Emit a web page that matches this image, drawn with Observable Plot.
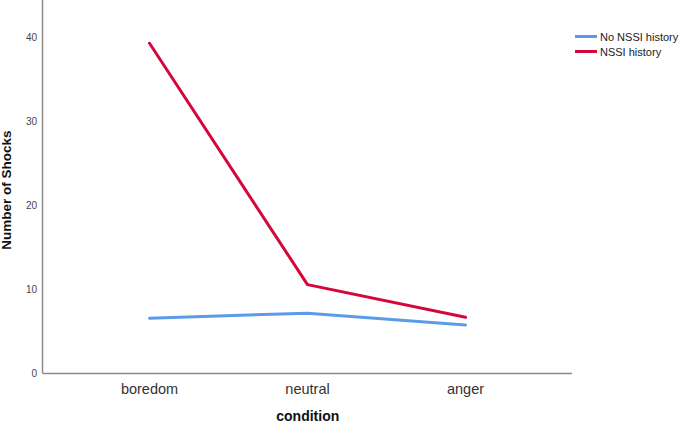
<!DOCTYPE html>
<html>
<head>
<meta charset="utf-8">
<script src="https://cdn.jsdelivr.net/npm/d3@7"></script>
<script src="https://cdn.jsdelivr.net/npm/@observablehq/plot@0.6"></script>
<style>
  html, body { margin: 0; padding: 0; background: #fff; }
  #wrap { position: relative; width: 685px; height: 422px; font-family: "Liberation Sans", Arial, sans-serif; }
  #legend { position: absolute; left: 575px; top: 29px; font-size: 11px; color: #222; }
  .item { display: flex; align-items: center; height: 15px; }
  .sw { width: 22px; height: 3px; margin-right: 3px; }
</style>
</head>
<body>
<div id="wrap"><div id="legend"></div></div>
<script>
const conditions = ["boredom", "neutral", "anger"];
const seriesNames = ["No NSSI history", "NSSI history"];
const noNssi = [6.6, 7.2, 5.8];
const nssi = [39.4, 10.6, 6.7];
const seriesColors = ["#5b9be8", "#d5073a"];
const yTicks = [0, 10, 20, 30, 40];

const data = [
  ...conditions.map((c, i) => ({condition: c, value: noNssi[i], group: seriesNames[0]})),
  ...conditions.map((c, i) => ({condition: c, value: nssi[i], group: seriesNames[1]}))
];

const yAxisLine = (index, scales, values, dims) => {
  const l = d3.create("svg:line")
    .attr("x1", dims.marginLeft).attr("x2", dims.marginLeft)
    .attr("y1", dims.marginTop).attr("y2", dims.height - dims.marginBottom)
    .attr("stroke", "#8a8a8a").attr("stroke-width", 1.5);
  return l.node();
};

const chart = Plot.plot({
  width: 685,
  height: 422,
  marginLeft: 42.5,
  marginRight: 113,
  marginTop: 0,
  marginBottom: 49,
  style: {fontFamily: "'Liberation Sans', Arial, sans-serif", background: "#fff"},
  x: {type: "point", domain: conditions, padding: 0.667},
  y: {domain: [0, 44.5]},
  color: {domain: seriesNames, range: seriesColors},
  marks: [
    Plot.axisY({ticks: yTicks, tickSize: 0, tickPadding: 6, fontSize: 10, fill: "#444", label: null}),
    Plot.axisX({tickSize: 0, tickPadding: 10, fontSize: 14.5, fill: "#333", label: null}),
    Plot.text(["Number of Shocks"], {frameAnchor: "left", dx: -36, dy: 3, rotate: -90, textAnchor: "middle", fontSize: 13.5, fontWeight: "bold", fill: "#111"}),
    Plot.text(["condition"], {frameAnchor: "bottom", dy: 47, fontSize: 14, fontWeight: "bold", fill: "#111"}),
    Plot.ruleY([0], {stroke: "#8a8a8a", strokeWidth: 1.5}),
    yAxisLine,
    Plot.line(data, {x: "condition", y: "value", z: "group", stroke: "group", strokeWidth: 3})
  ]
});
document.getElementById("wrap").prepend(chart);

const legend = document.getElementById("legend");
seriesNames.forEach((n, i) => {
  const it = document.createElement("div");
  it.className = "item";
  const sw = document.createElement("span");
  sw.className = "sw";
  sw.style.background = seriesColors[i];
  const t = document.createElement("span");
  t.textContent = n;
  it.append(sw, t);
  legend.append(it);
});
</script>
</body>
</html>
